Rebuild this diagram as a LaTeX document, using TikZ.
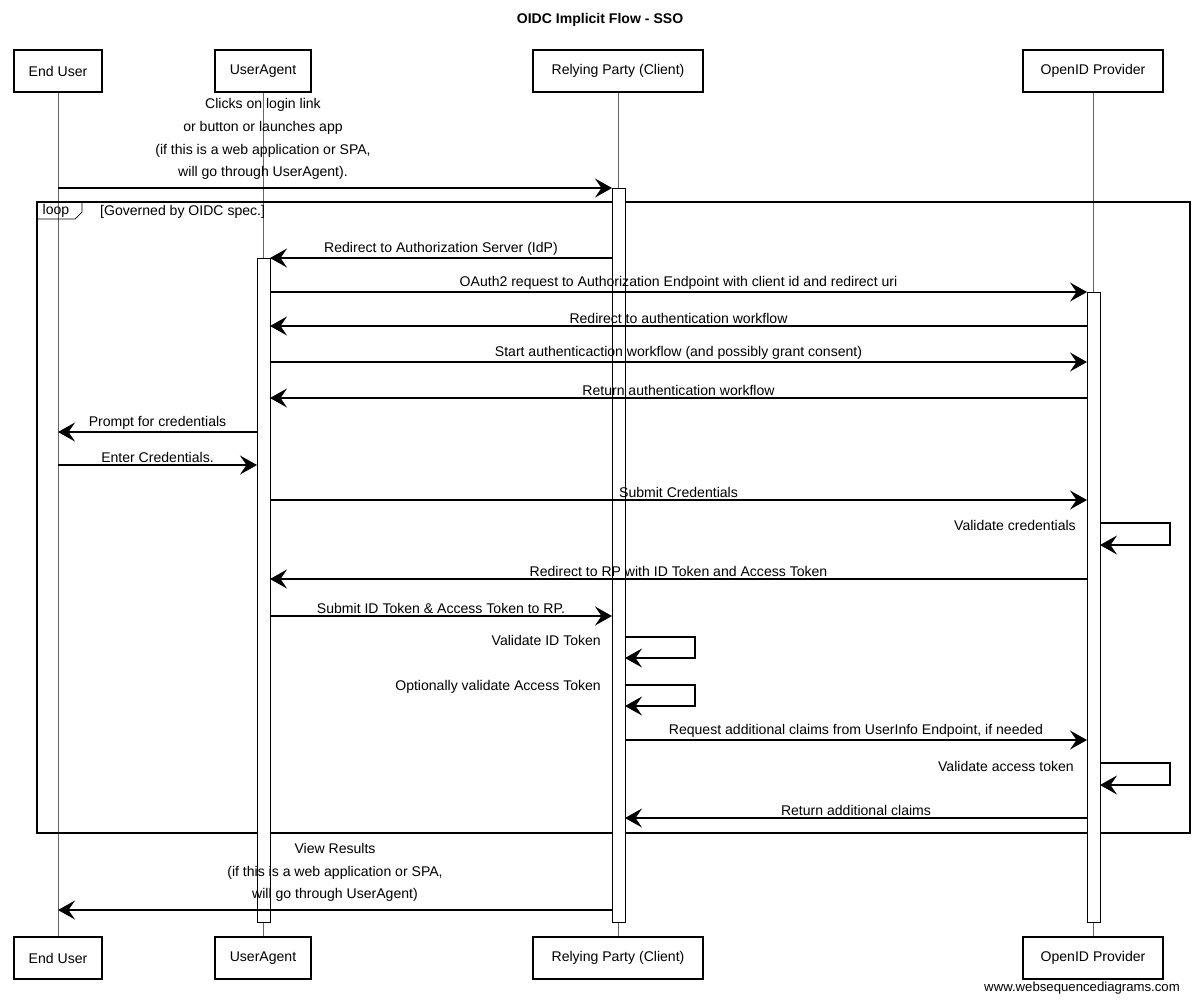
\documentclass[tikz,border=0pt]{standalone}
\usepackage{fontspec}
\setmainfont{Liberation Sans}
\usetikzlibrary{arrows.meta}
\tikzset{
  box/.style={draw,semithick,minimum height=0.84cm,font=\fontsize{8}{10}\selectfont,fill=white},
  life/.style={draw=black!60},
  bar/.style={draw,fill=white},
  msg/.style={-{Stealth[length=3.4mm,width=3.8mm,inset=1.3mm]},semithick},
  lbl/.style={font=\fontsize{8}{13}\selectfont,align=center},
}
\begin{document}
\begin{tikzpicture}[x=0.02cm,y=-0.02cm]
    \useasboundingbox (0,0) rectangle (1200,1002);

    % Title
    \node[font=\fontsize{8}{10}\selectfont\bfseries] (title) at (600,20) {OIDC Implicit Flow - SSO};

    % Participants
    \node[box,minimum width=1.76cm] (eu) at (58,71) {End User};
    \node[box,minimum width=1.92cm] (ua) at (263,71) {UserAgent};
    \node[box,minimum width=3.40cm] (rp) at (618,71) {Relying Party (Client)};
    \node[box,minimum width=2.80cm] (op) at (1093,71) {OpenID Provider};
    \node[box,minimum width=1.76cm] (eub) at (58,958) {End User};
    \node[box,minimum width=1.92cm] (uab) at (263,958) {UserAgent};
    \node[box,minimum width=3.40cm] (rpb) at (618,958) {Relying Party (Client)};
    \node[box,minimum width=2.80cm] (opb) at (1093,958) {OpenID Provider};

    % Lifelines
    \draw[life] (eu) -- (eub);
    \draw[life] (ua) -- (uab);
    \draw[life] (rp) -- (rpb);
    \draw[life] (op) -- (opb);

    % Loop frame
    \draw[semithick] (37,202) rectangle (1190,833);
    \draw (37,219) -- (75,219) -- (82,212) -- (82,202);
    \node[lbl] (looplbl) at (56,211) {loop};
    \node[lbl,anchor=west] (guard) at (94,212) {[Governed by OIDC spec.]};

    % Activations
    \draw[bar] (612,188) rectangle (625,922);
    \draw[bar] (257,258) rectangle (270,922);
    \draw[bar] (1087,292) rectangle (1100,922);

    % Messages
    \draw[msg] (58,188) -- (612,188);
    \node[lbl,anchor=south] (m1) at (263,186) {Clicks on login link\\or button or launches app\\(if this is a web application or SPA,\\will go through UserAgent).};
    \draw[msg] (612,258) -- (270,258) node[lbl,midway,above=-2pt] {Redirect to Authorization Server (IdP)};
    \draw[msg] (270,292) -- (1087,292) node[lbl,midway,above=-2pt] {OAuth2 request to Authorization Endpoint with client id and redirect uri};
    \draw[msg] (1087,326) -- (270,326) node[lbl,midway,above=-2pt] {Redirect to authentication workflow};
    \draw[msg] (270,362) -- (1087,362) node[lbl,midway,above=-2pt] {Start authenticaction workflow (and possibly grant consent)};
    \draw[msg] (1087,398) -- (270,398) node[lbl,midway,above=-2pt] {Return authentication workflow};
    \draw[msg] (257,432) -- (58,432) node[lbl,midway,above=-2pt] {Prompt for credentials};
    \draw[msg] (58,465) -- (257,465) node[lbl,midway,above=-2pt] {Enter Credentials.};
    \draw[msg] (270,500) -- (1087,500) node[lbl,midway,above=-2pt] {Submit Credentials};
    \draw[msg] (1100,523) -- (1170,523) -- (1170,545) -- (1100,545);
    \node[lbl,anchor=east] (v1) at (1082,525) {Validate credentials};
    \draw[msg] (1087,579) -- (270,579) node[lbl,midway,above=-2pt] {Redirect to RP with ID Token and Access Token};
    \draw[msg] (270,616) -- (612,616) node[lbl,midway,above=-2pt] {Submit ID Token \& Access Token to RP.};
    \draw[msg] (625,637) -- (695,637) -- (695,658) -- (625,658);
    \node[lbl,anchor=east] (v2) at (607,640) {Validate ID Token};
    \draw[msg] (625,685) -- (695,685) -- (695,706) -- (625,706);
    \node[lbl,anchor=east] (v3) at (607,687) {Optionally validate Access Token};
    \draw[msg] (625,740) -- (1087,740) node[lbl,midway,above=-2pt] {Request additional claims from UserInfo Endpoint, if needed};
    \draw[msg] (1100,763) -- (1170,763) -- (1170,785) -- (1100,785);
    \node[lbl,anchor=east] (v4) at (1080,766) {Validate access token};
    \draw[msg] (1087,818) -- (625,818) node[lbl,midway,above=-2pt] {Return additional claims};
    \draw[msg] (612,910) -- (58,910);
    \node[lbl,anchor=south] (m18) at (335,908) {View Results\\(if this is a web application or SPA,\\will go through UserAgent)};

    % Watermark
    \node[font=\fontsize{7.5}{9}\selectfont] (wm) at (1082,988) {www.websequencediagrams.com};
\end{tikzpicture}
\end{document}
